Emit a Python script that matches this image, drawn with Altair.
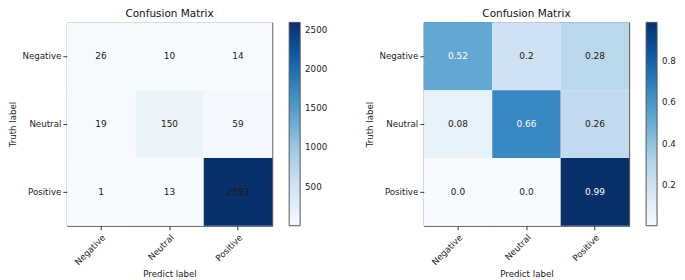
import altair as alt
import pandas as pd
import numpy as np

labels = ["Negative", "Neutral", "Positive"]
counts = [[26, 10, 14], [19, 150, 59], [1, 13, 2593]]
norm = [[0.52, 0.2, 0.28], [0.08, 0.66, 0.26], [0.0, 0.0, 0.99]]
count_ticks = [500, 1000, 1500, 2000, 2500]
norm_ticks = [0.2, 0.4, 0.6, 0.8]

BLUES = ["#f7fbff", "#deebf7", "#c6dbef", "#9ecae1", "#6baed6",
         "#4292c6", "#2171b5", "#08519c", "#08306b"]

FONT = "DejaVu Sans"
W, H = 206, 204


def make_df(mat):
    rows = []
    for i, t in enumerate(labels):
        for j, p in enumerate(labels):
            v = mat[i][j]
            rows.append({"truth": t, "pred": p, "value": v, "label": str(v)})
    return pd.DataFrame(rows)


def panel(mat, ticks, fmt, white_thresh):
    df = make_df(mat)
    vals = [v for r in mat for v in r]
    vmin, vmax = min(vals), max(vals)
    stops = [float(s) for s in np.linspace(vmin, vmax, len(BLUES))]
    base = alt.Chart(df).encode(
        x=alt.X("pred:N", sort=labels,
                scale=alt.Scale(paddingInner=0, paddingOuter=0),
                axis=alt.Axis(title="Predict label", labelAngle=315,
                              labelAlign="right", labelBaseline="top",
                              labelPadding=3, titlePadding=3)),
        y=alt.Y("truth:N", sort=labels,
                scale=alt.Scale(paddingInner=0, paddingOuter=0),
                axis=alt.Axis(title="Truth label", labelPadding=2,
                              titlePadding=4)),
    )
    rect = base.mark_rect().encode(
        color=alt.Color("value:Q", title=None,
                        scale=alt.Scale(type="linear", domain=stops, range=BLUES,
                                        interpolate="rgb"),
                        legend=alt.Legend(orient="right", direction="vertical",
                                          gradientLength=H, gradientThickness=11,
                                          gradientStrokeColor="#555",
                                          gradientStrokeWidth=1,
                                          values=ticks, format=fmt,
                                          labelOverlap=False,
                                          labelFontSize=8.7, labelFont=FONT,
                                          labelColor="#222", labelOffset=5,
                                          offset=17, padding=0))
    )
    if white_thresh is None:
        tcolor = alt.value("#1a1a1a")
    else:
        tcolor = alt.condition(alt.datum.value > white_thresh,
                               alt.value("white"), alt.value("#1a1a1a"))
    text = base.mark_text(fontSize=9, font=FONT).encode(
        text="label:N", color=tcolor)
    return (rect + text).properties(
        width=W, height=H,
        title=alt.TitleParams("Confusion Matrix", fontSize=10.5, font=FONT,
                              fontWeight="normal", color="#111", offset=3))


left = panel(counts, count_ticks, "d", None)
right = panel(norm, norm_ticks, ".1f", 0.495)

chart = alt.hconcat(left, right, spacing=36).resolve_scale(
    color="independent"
).properties(padding=0).configure_view(
    stroke="#444", strokeWidth=1
).configure_axis(
    domain=False, grid=False, tickSize=4, tickColor="#333",
    labelFont=FONT, labelFontSize=8.7, labelColor="#222",
    titleFont=FONT, titleFontSize=8.7, titleFontWeight="normal", titleColor="#222"
)

chart.save("out.html", embed_options={"renderer": "svg", "actions": False})
